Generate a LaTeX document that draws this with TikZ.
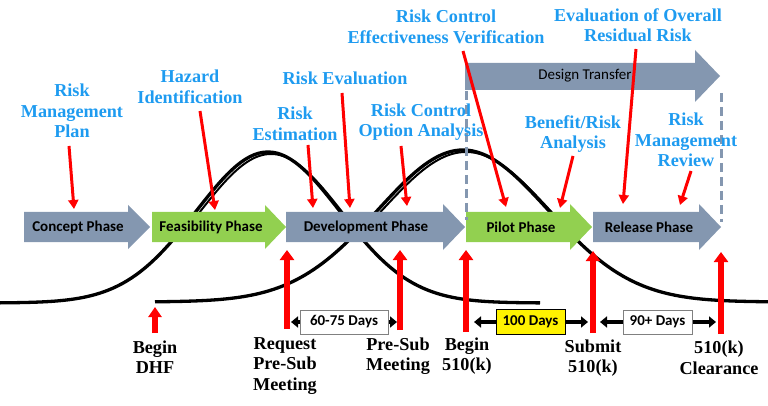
\documentclass[tikz,border=0pt]{standalone}
\usepackage{fontspec}
\newfontfamily\carlito{Carlito}
\newfontfamily\lserif{Liberation Serif}
\usetikzlibrary{arrows.meta}
\definecolor{phgray}{HTML}{8497B0}
\definecolor{phgreen}{HTML}{92D050}
\definecolor{lblue}{RGB}{30,155,240}
\definecolor{boxgray}{HTML}{808080}
\begin{document}
\begin{tikzpicture}[x=1pt,y=-1pt,
  curve/.style={draw=black,line width=3.3pt},
  phtext/.style={inner sep=0pt,font=\carlito\bfseries\fontsize{15}{16}\selectfont},
  dttext/.style={inner sep=0pt,font=\carlito\fontsize{15}{16}\selectfont},
  risklabel/.style={inner sep=0pt,align=center,text=lblue,font=\lserif\bfseries\fontsize{18.2}{20.5}\selectfont},
  mslabel/.style={inner sep=0pt,align=center,text=black,font=\lserif\bfseries\fontsize{18.2}{20.5}\selectfont},
  redarr/.style={draw=red,line width=3pt,-{Triangle[length=9pt,width=10pt]}},
  uparr/.style={draw=red,line width=6.5pt,-{Triangle[length=10pt,width=14pt]}},
  dblarr/.style={draw=black,line width=4pt,{Triangle[length=7pt,width=11pt]}-{Triangle[length=7pt,width=11pt]}},
  daysbox/.style={draw=boxgray,line width=0.9pt,fill=white,inner sep=0pt,font=\carlito\bfseries\fontsize{15}{16}\selectfont},
  dashln/.style={draw=phgray,line width=3pt,dash pattern=on 9pt off 5pt}
]
\useasboundingbox (0,0) rectangle (768,406);
% bell curves
\draw[curve] plot[domain=0:540,samples=120] (\x,{303-151*exp(-0.5*((\x-268)/72)^2)});
\draw[curve,line width=2pt] plot[domain=190:350,samples=60] (\x,{304-150*exp(-0.5*((\x-271)/72)^2)});
\draw[curve] plot[domain=155:768,samples=140] (\x,{302-152*exp(-0.5*((\x-463)/85)^2)});
\draw[curve,line width=2pt] plot[domain=380:560,samples=60] (\x,{303-151*exp(-0.5*((\x-466)/85)^2)});
% phase arrows
\fill[phgray] (24,212) -- (128,212) -- (128,205) -- (150,227) -- (128,249) -- (128,242) -- (24,242) -- cycle;
\fill[phgreen] (152,212) -- (265,212) -- (265,205) -- (286,227) -- (265,249) -- (265,242) -- (152,242) -- cycle;
\fill[phgray] (286,212) -- (443,212) -- (443,204) -- (465,227) -- (443,250) -- (443,242) -- (286,242) -- cycle;
\fill[phgreen] (466,212) -- (570,212) -- (570,204) -- (592,227) -- (570,250) -- (570,242) -- (466,242) -- cycle;
\fill[phgray] (593,212) -- (699,212) -- (699,204) -- (721,227) -- (699,250) -- (699,242) -- (593,242) -- cycle;
\fill[phgray] (465,63) -- (695,63) -- (695,50) -- (720,76) -- (695,102) -- (695,90) -- (465,90) -- cycle;
\node[phtext] (concept) at (78,227) {Concept Phase};
\node[phtext] (feas) at (211,227) {Feasibility Phase};
\node[phtext] (dev) at (366,227) {Development Phase};
\node[phtext] (pilot) at (521,227) {Pilot Phase};
\node[phtext] (release) at (649,227) {Release Phase};
\node[dttext] (dt) at (585,76) {Design Transfer};
% dashed lines
\coordinate (dl1) at (466,91); \coordinate (dl2) at (466,220);
\coordinate (dr1) at (721,93); \coordinate (dr2) at (721,222);
\draw[dashln] (dl1) -- (dl2);
\draw[dashln] (dr1) -- (dr2);
% risk labels
\node[risklabel] (rmp) at (72,111) {Risk\\Management\\Plan};
\node[risklabel] (hid) at (190,87) {Hazard\\Identification};
\node[risklabel] (rev) at (345,78) {Risk Evaluation};
\node[risklabel] (rest) at (295,124) {Risk\\Estimation};
\node[risklabel] (rcoa) at (421,122) {Risk Control\\Option Analysis};
\node[risklabel] (rcev) at (446,27) {Risk Control\\Effectiveness Verification};
\node[risklabel] (eorr) at (638,25) {Evaluation of Overall\\Residual Risk};
\node[risklabel] (bra) at (573,134) {Benefit/Risk\\Analysis};
\node[risklabel] (rmr) at (686,140) {Risk\\Management\\Review};
% red arrows
\coordinate (a1s) at (69,146);  \coordinate (a1e) at (74,209);
\coordinate (a2s) at (200,111); \coordinate (a2e) at (215,210);
\coordinate (a3s) at (308,145); \coordinate (a3e) at (313,208);
\coordinate (a4s) at (342,93);  \coordinate (a4e) at (350,208);
\coordinate (a5s) at (401,146); \coordinate (a5e) at (407,206);
\coordinate (a6s) at (463,51);  \coordinate (a6e) at (506,207);
\coordinate (a7s) at (573,156); \coordinate (a7e) at (560,208);
\coordinate (a8s) at (636,49);  \coordinate (a8e) at (623,204);
\coordinate (a9s) at (691,171); \coordinate (a9e) at (680,205);
\foreach \i in {1,...,9} {\draw[redarr] (a\i s) -- (a\i e);}
% milestone arrows
\coordinate (u1s) at (155,333); \coordinate (u1e) at (155,307);
\coordinate (u2s) at (287,329); \coordinate (u2e) at (287,250);
\coordinate (u3s) at (400,330); \coordinate (u3e) at (400,250);
\coordinate (u4s) at (466,332); \coordinate (u4e) at (466,250);
\coordinate (u5s) at (593,333); \coordinate (u5e) at (593,251);
\coordinate (u6s) at (721,334); \coordinate (u6e) at (721,252);
\draw[uparr,-{Triangle[length=10pt,width=13pt]}] (u1s) -- (u1e);
\foreach \i in {2,...,6} {\draw[uparr] (u\i s) -- (u\i e);}
% duration arrows and boxes
\coordinate (d1l) at (291,322); \coordinate (d1r) at (397,322);
\coordinate (d2l) at (474,322); \coordinate (d2r) at (588,322);
\coordinate (d3l) at (600,322); \coordinate (d3r) at (716,322);
\draw[dblarr] (d1l) -- (d1r);
\draw[dblarr] (d2l) -- (d2r);
\draw[dblarr] (d3l) -- (d3r);
\node[daysbox,minimum width=88pt,minimum height=24pt] (b1) at (344,322) {60-75 Days};
\node[daysbox,draw=black,fill=yellow,minimum width=69pt,minimum height=25pt] (b2) at (530.5,321.5) {100 Days};
\node[daysbox,minimum width=69pt,minimum height=24pt] (b3) at (657.5,322) {90+ Days};
% milestone labels
\node[mslabel] (m1) at (155,357) {Begin\\DHF};
\node[mslabel] (m2) at (285,366) {Request\\Pre-Sub\\Meeting};
\node[mslabel] (m3) at (398,356) {Pre-Sub\\Meeting};
\node[mslabel] (m4) at (467,356) {Begin\\510(k)};
\node[mslabel] (m5) at (593,358) {Submit\\510(k)};
\node[mslabel] (m6) at (719,358) {510(k)\\Clearance};
\end{tikzpicture}
\end{document}
